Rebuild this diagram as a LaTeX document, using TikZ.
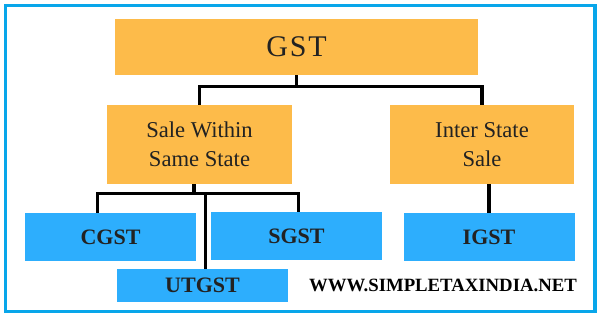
\documentclass[tikz,border=0pt]{standalone}
\usepackage{fontspec}
\setmainfont{Liberation Serif}
\definecolor{gstorange}{RGB}{253,187,74}
\definecolor{gstblue}{RGB}{45,174,253}
\definecolor{frameblue}{RGB}{8,166,234}
\definecolor{inkgray}{RGB}{34,34,34}

\begin{document}
\begin{tikzpicture}[x=0.03cm,y=-0.03cm,
    head/.style={fill=gstorange,text=inkgray,inner sep=0pt,align=center,
        font=\fontsize{19.3}{24.8}\selectfont},
    taxbox/.style={fill=gstblue,text=inkgray,inner sep=0pt,minimum width=5.13cm,
        minimum height=1.44cm,font=\fontsize{18.8}{22}\selectfont\bfseries},
    link/.style={line width=2.6pt}]
\useasboundingbox (0,0) rectangle (600,317);
\draw[frameblue,line width=3pt] (5.7,5.3) rectangle (595,311.7);

% top level
\node[head,minimum width=10.89cm,minimum height=1.68cm,
    font=\fontsize{25.6}{30}\selectfont\addfontfeature{LetterSpace=6}] (gst) at (296.5,47) {GST};

% supply type
\node[head,minimum width=5.55cm,minimum height=2.37cm] (sale) at (199.5,144.5) {Sale Within\\Same State};
\node[head,minimum width=5.52cm,minimum height=2.37cm] (inter) at (482,144.5) {Inter State\\Sale};

% taxes
\node[taxbox] (cgst) at (110.5,237) {CGST};
\node[taxbox] (sgst) at (296.5,236) {SGST};
\node[taxbox] (igst) at (489,237) {IGST};
\node[taxbox,minimum height=0.99cm] (utgst) at (202.5,285.5) {UTGST};

\node[font=\fontsize{16}{19}\selectfont\bfseries] (site) at (443,285) {WWW.SIMPLETAXINDIA.NET};

\draw[link] (gst.south) -- ++(0,11) coordinate (gstbus);
\draw[link] (sale.north) |- (gstbus) -| (inter.north);

\draw[link] (sale.south) ++(-5.5,0) -- ++(0,9.3) coordinate (salebus);
\draw[link] ([xshift=-10.9pt]cgst.north) |- (salebus) -| ([xshift=1.9pt]sgst.north);
\draw[link] ([xshift=2.4pt]utgst.north) -- ([xshift=2.4pt]utgst.north |- salebus);

\draw[link] (igst.north) -- (igst.north |- inter.south);
\end{tikzpicture}
\end{document}
